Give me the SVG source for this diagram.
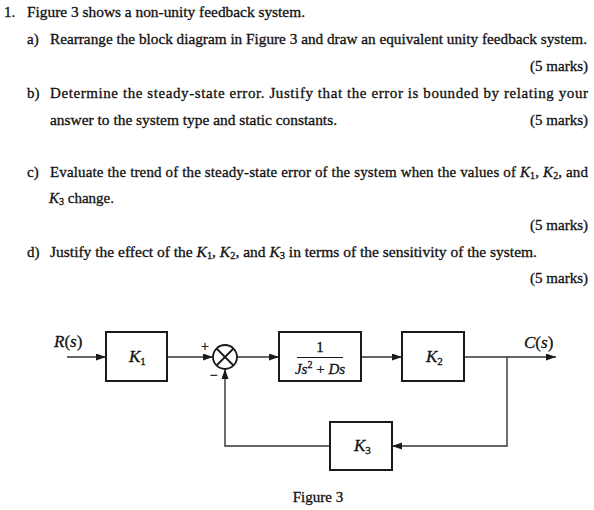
<svg xmlns="http://www.w3.org/2000/svg" width="594" height="510" viewBox="0 0 594 510">
<defs>
<style>
text{font-family:"Liberation Serif","Times New Roman",serif;fill:#111;stroke:#111;stroke-width:0.3;}
.t{font-size:15px;}
.i{font-style:italic;}
.ln{fill:none;stroke:#333;stroke-width:1.4;}
.box{fill:#fff;stroke:#1a1a1a;stroke-width:2;}
.lbl{font-size:17px;}
</style>
<marker id="ah" markerUnits="userSpaceOnUse" markerWidth="11" markerHeight="8" refX="10" refY="3.5" orient="auto">
<path d="M0,0 L10,3.5 L0,7 z" fill="#1a1a1a"/>
</marker>
</defs>
<rect width="594" height="510" fill="#fff"/>

<g id="questions">
<text class="t" x="4" y="17">1.</text>
<text class="t" x="27" y="17" textLength="278" lengthAdjust="spacingAndGlyphs">Figure 3 shows a non-unity feedback system.</text>
<text class="t" x="27" y="44">a)</text>
<text class="t" x="50" y="44" textLength="537" lengthAdjust="spacingAndGlyphs">Rearrange the block diagram in Figure 3 and draw an equivalent unity feedback system.</text>
<text class="t" x="588" y="71" text-anchor="end">(5 marks)</text>
<text class="t" x="27" y="98">b)</text>
<text class="t" x="50" y="98" textLength="538" lengthAdjust="spacing">Determine the steady-state error. Justify that the error is bounded by relating your</text>
<text class="t" x="50" y="125" textLength="287" lengthAdjust="spacingAndGlyphs">answer to the system type and static constants.</text>
<text class="t" x="588" y="125" text-anchor="end">(5 marks)</text>
<text class="t" x="27" y="177">c)</text>
<text class="t" x="50" y="177" textLength="538" lengthAdjust="spacing">Evaluate the trend of the steady-state error of the system when the values of <tspan class="i">K</tspan><tspan font-size="10" dy="2">1</tspan><tspan dy="-2">, </tspan><tspan class="i">K</tspan><tspan font-size="10" dy="2">2</tspan><tspan dy="-2">, and</tspan></text>
<text class="t" x="49" y="203"><tspan class="i">K</tspan><tspan font-size="10" dy="2">3</tspan><tspan dy="-2"> change.</tspan></text>
<text class="t" x="588" y="230" text-anchor="end">(5 marks)</text>
<text class="t" x="27" y="257">d)</text>
<text class="t" x="50" y="257" textLength="487" lengthAdjust="spacingAndGlyphs">Justify the effect of the <tspan class="i">K</tspan><tspan font-size="10" dy="2">1</tspan><tspan dy="-2">, </tspan><tspan class="i">K</tspan><tspan font-size="10" dy="2">2</tspan><tspan dy="-2">, and </tspan><tspan class="i">K</tspan><tspan font-size="10" dy="2">3</tspan><tspan dy="-2"> in terms of the sensitivity of the system.</tspan></text>
<text class="t" x="588" y="283" text-anchor="end">(5 marks)</text>
</g>

<g id="connectors">
<line class="ln" x1="67" y1="357" x2="106" y2="357" marker-end="url(#ah)"/>
<line class="ln" x1="167" y1="357" x2="213" y2="357" marker-end="url(#ah)"/>
<line class="ln" x1="237" y1="357" x2="279" y2="357" marker-end="url(#ah)"/>
<line class="ln" x1="361" y1="357" x2="402" y2="357" marker-end="url(#ah)"/>
<line class="ln" x1="464" y1="357" x2="556" y2="357" marker-end="url(#ah)"/>
<polyline class="ln" points="507,357 507,446 392,446" marker-end="url(#ah)"/>
<polyline class="ln" points="330,446 225,446 225,369" marker-end="url(#ah)"/>
</g>

<g id="input-label">
<text class="lbl" x="54" y="347"><tspan class="i">R</tspan>(<tspan class="i">s</tspan>)</text>
</g>

<g id="K1">
<rect class="box" x="106" y="332" width="61" height="49"/>
<text class="lbl" x="129" y="362"><tspan class="i">K</tspan><tspan font-size="11" dy="3">1</tspan></text>
</g>

<g id="sum">
<circle cx="225" cy="357" r="12" fill="#fff" stroke="#1a1a1a" stroke-width="1.8"/>
<line x1="216.5" y1="348.5" x2="233.5" y2="365.5" stroke="#1a1a1a" stroke-width="1.8"/>
<line x1="233.5" y1="348.5" x2="216.5" y2="365.5" stroke="#1a1a1a" stroke-width="1.8"/>
<text x="205" y="351" font-size="14" text-anchor="middle" stroke-width="0.6">+</text>
<text x="214" y="380" font-size="14" text-anchor="middle" stroke-width="0.6">−</text>
</g>

<g id="G">
<rect class="box" x="279" y="332" width="82" height="49"/>
<text x="320" y="352" font-size="15" text-anchor="middle">1</text>
<line x1="297" y1="357.5" x2="343" y2="357.5" stroke="#1a1a1a" stroke-width="1.2"/>
<text x="320" y="374" font-size="15" text-anchor="middle"><tspan class="i">Js</tspan><tspan font-size="10" dy="-6">2</tspan><tspan dy="6"> + </tspan><tspan class="i">Ds</tspan></text>
</g>

<g id="K2">
<rect class="box" x="402" y="332" width="62" height="49"/>
<text class="lbl" x="426" y="362"><tspan class="i">K</tspan><tspan font-size="11" dy="3">2</tspan></text>
</g>

<g id="output-label">
<text class="lbl" x="524" y="348"><tspan class="i">C</tspan>(<tspan class="i">s</tspan>)</text>
</g>

<g id="K3">
<rect class="box" x="330" y="422" width="62" height="48"/>
<text class="lbl" x="354" y="451"><tspan class="i">K</tspan><tspan font-size="11" dy="3">3</tspan></text>
</g>

<g id="caption">
<text class="t" x="318" y="502" text-anchor="middle">Figure 3</text>
</g>
</svg>
